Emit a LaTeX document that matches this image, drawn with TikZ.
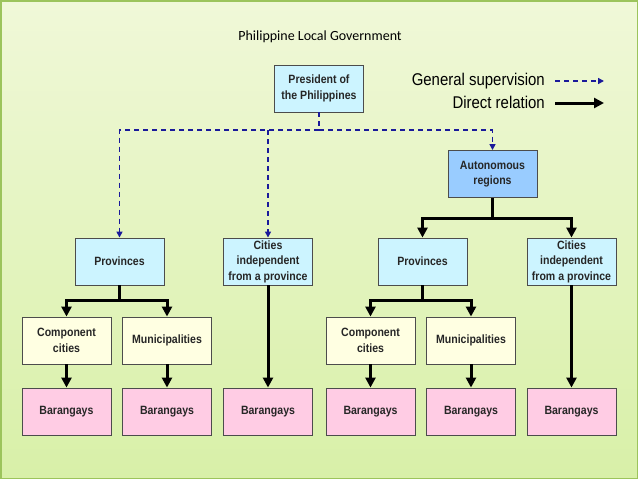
\documentclass[tikz,border=0pt]{standalone}
\usepackage{fontspec}
\setmainfont{Liberation Sans}
\newfontfamily\titlefont{Carlito}
\usetikzlibrary{arrows.meta}
\definecolor{bgtop}{HTML}{F0F8D8}
\definecolor{bgbot}{HTML}{D8F0A8}
\definecolor{bgframe}{HTML}{9CC45C}
\definecolor{lblue}{HTML}{CCF4FF}
\definecolor{mblue}{HTML}{99CCFF}
\definecolor{cream}{HTML}{FFFFE2}
\definecolor{pinkb}{HTML}{FFCCE4}
\definecolor{dblue}{HTML}{1A1A9A}
\begin{document}
\begin{tikzpicture}[x=1pt,y=-1pt,
  box/.style={draw=black!70,line width=0.9pt,minimum width=89pt,minimum height=47pt,inner sep=1pt,align=center,font=\addfontfeature{FakeStretch=0.88}\fontsize{12}{15.5}\selectfont\bfseries,text=black!85},
  sup/.style={dblue,dashed,dash pattern=on 5pt off 4pt,line width=1.6pt},
  supa/.style={sup,-{Triangle[length=6pt,width=6pt]}},
  dir/.style={line width=3pt,-{Triangle[length=10pt,width=10pt]}},
  dirl/.style={line width=3pt}]
\shade[top color=bgtop,bottom color=bgbot,draw=bgframe,line width=1.5pt] (0.75,0.75) rectangle (637.25,478.25);
\node[font=\titlefont\fontsize{14}{16}\selectfont] (title) at (320,37) {Philippine Local Government};
\node[box,fill=lblue] (pres) at (319,88.5) {President of\\the Philippines};
\node[box,fill=mblue] (auto) at (492.5,174) {Autonomous\\regions};
\node[box,fill=lblue] (provL) at (119.5,261.5) {Provinces};
\node[box,fill=lblue] (citL) at (268,261.5) {Cities\\independent\\from a province};
\node[box,fill=lblue] (provR) at (422.5,261.5) {Provinces};
\node[box,fill=lblue] (citR) at (571.5,261.5) {Cities\\independent\\from a province};
\node[box,fill=cream] (compL) at (66.5,340.5) {Component\\cities};
\node[box,fill=cream] (munL) at (167,340.5) {Municipalities};
\node[box,fill=cream] (compR) at (370.5,340.5) {Component\\cities};
\node[box,fill=cream] (munR) at (471,340.5) {Municipalities};
\foreach \n/\x in {b1/66.5,b2/167,b3/268,b4/370.5,b5/471,b6/571.5}
  \node[box,fill=pinkb] (\n) at (\x,411.5) {Barangays};
% legend
\node[anchor=east,font=\addfontfeature{FakeStretch=0.88}\fontsize{17}{19}\selectfont,inner sep=0pt] (lg1) at (545,81) {General supervision};
\node[anchor=east,font=\addfontfeature{FakeStretch=0.88}\fontsize{17}{19}\selectfont,inner sep=0pt] (lg2) at (545,102) {Direct relation};
\coordinate (l1a) at (555,81); \coordinate (l1b) at (604,81);
\coordinate (l2a) at (555,103); \coordinate (l2b) at (604,103);
\draw[supa] (l1a) -- (l1b);
\draw[dir] (l2a) -- (l2b);
% supervision
\coordinate (j) at (319,130);
\draw[sup] (pres.south) -- (j);
\draw[supa] (j) -| (auto.north);
\draw[supa] (j) -| (provL.north);
\draw[supa] (268,130) -- (citL.north);
% direct
\coordinate (ja) at (492.5,218);
\draw[dirl] (auto.south) -- (ja);
\draw[dir] (ja) -| (provR.north);
\draw[dir] (ja) -| (citR.north);
\coordinate (jl) at (119.5,300);
\draw[dirl] (provL.south) -- (jl);
\draw[dir] (jl) -| (compL.north);
\draw[dir] (jl) -| (munL.north);
\coordinate (jr) at (422.5,300);
\draw[dirl] (provR.south) -- (jr);
\draw[dir] (jr) -| (compR.north);
\draw[dir] (jr) -| (munR.north);
\draw[dir] (compL) -- (b1);
\draw[dir] (munL) -- (b2);
\draw[dir] (citL) -- (b3);
\draw[dir] (compR) -- (b4);
\draw[dir] (munR) -- (b5);
\draw[dir] (citR) -- (b6);
\end{tikzpicture}
\end{document}
